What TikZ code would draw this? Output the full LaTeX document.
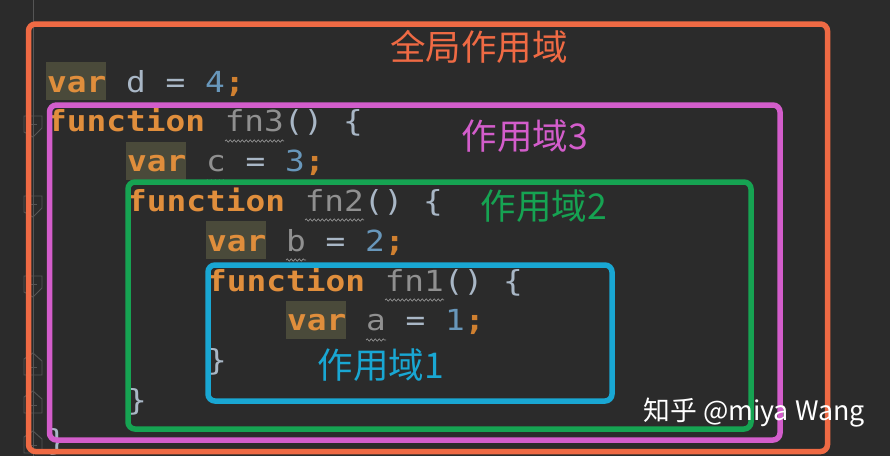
\documentclass[tikz,border=0pt]{standalone}
\usepackage{fontspec}
\newfontfamily\codefont[FakeStretch=1.13]{DejaVu Sans Mono}
\newfontfamily\cjk{Noto Sans CJK SC}
\usepackage{tikz}
\usetikzlibrary{positioning}
\usetikzlibrary{decorations.pathmorphing}

\definecolor{bgdark}{HTML}{2B2B2B}
\definecolor{kworange}{HTML}{E08E3C}
\definecolor{semiorange}{HTML}{D08030}
\definecolor{plaintext}{HTML}{A9B7C6}
\definecolor{numblue}{HTML}{6897BB}
\definecolor{unusedgrey}{HTML}{909090}
\definecolor{varbg}{HTML}{4A4A3A}
\definecolor{gutgrey}{HTML}{555555}
\definecolor{globalc}{HTML}{EF6A44}
\definecolor{scopethree}{HTML}{D35DCB}
\definecolor{scopetwo}{HTML}{16A352}
\definecolor{scopeone}{HTML}{19A7D3}

\newcommand{\kw}[1]{\textcolor{kworange}{\bfseries #1}}
\newcommand{\numb}[1]{\textcolor{numblue}{#1}}
\newcommand{\semi}{\textcolor{semiorange}{\bfseries ;}}
\newcommand{\unused}[1]{\textcolor{unusedgrey}{#1}}

\tikzset{
  code/.style={anchor=base west, inner sep=0pt, text=plaintext,
               font=\codefont\fontsize{29}{32}\selectfont},
  scopebox/.style={line width=5.5pt, rounded corners=7pt},
  scopelabel/.style={inner sep=0pt, font=\cjk\fontsize{35.5}{40}\selectfont},
  squiggle/.style={draw=unusedgrey, line width=0.7pt, decorate,
                   decoration={snake, amplitude=1.1pt, segment length=4pt}},
  foldmark/.style={draw=gutgrey, line width=0.9pt}
}

\begin{document}
\begin{tikzpicture}[x=1pt, y=-1pt]
  \fill[bgdark] (0,0) rectangle (890,456);
  \useasboundingbox (0,0) rectangle (890,456);

  % gutter
  \draw[gutgrey, line width=0.8pt] (33,0) -- (33,456);
  \foreach \y in {116,196,276} {
    \draw[foldmark] (24,\y) -- (42,\y) -- (42,\y+12) -- (33,\y+21) -- (24,\y+16) -- cycle;
    \draw[foldmark] (29,\y+8) -- (37,\y+8);
  }
  \foreach \y in {353,391,431} {
    \draw[foldmark] (33,\y) -- (42,\y+8) -- (42,\y+22) -- (24,\y+22) -- (24,\y+6) -- cycle;
    \draw[foldmark] (29,\y+14) -- (37,\y+14);
  }

  % var highlights
  \fill[varbg] (46,62) rectangle (106,100);
  \fill[varbg] (126,141.6) rectangle (186,179.6);
  \fill[varbg] (206,221.2) rectangle (266,259.2);
  \fill[varbg] (286,300.8) rectangle (346,338.8);

  % code
  \node[code] (ln1) at (47,92) {\kw{var} d = \numb{4}\semi};
  \node[code] (ln2) at (47,131.8) {\kw{function} \unused{fn3}() \{};
  \node[code] (ln3) at (127,171.6) {\kw{var} \unused{c} = \numb{3}\semi};
  \node[code] (ln4) at (127,211.4) {\kw{function} \unused{fn2}() \{};
  \node[code] (ln5) at (207,251.2) {\kw{var} \unused{b} = \numb{2}\semi};
  \node[code] (ln6) at (207,291) {\kw{function} \unused{fn1}() \{};
  \node[code] (ln7) at (287,330.8) {\kw{var} \unused{a} = \numb{1}\semi};
  \node[code] (ln8) at (207,370.6) {\}};
  \node[code] (ln9) at (127,410.4) {\}};
  \node[code] (ln10) at (47,450.2) {\}};

  % wavy underlines
  \draw[squiggle] (225,141) -- (284,141);
  \draw[squiggle] (206,181) -- (226,181);
  \draw[squiggle] (305,220) -- (364,220);
  \draw[squiggle] (286,260) -- (306,260);
  \draw[squiggle] (385,300) -- (444,300);
  \draw[squiggle] (366,340) -- (386,340);

  % scopes
  \draw[scopebox, globalc] (28.5,24) rectangle (827.5,451.5);
  \draw[scopebox, scopethree] (49.5,105) rectangle (780,440);
  \draw[scopebox, scopetwo] (128,182) rectangle (751,429);
  \draw[scopebox, scopeone] (208,265) rectangle (612,401);

  \node[scopelabel, text=globalc] (lglobal) at (479,47) {全局作用域};
  \node[scopelabel, text=scopethree] (lthree) at (525,136) {作用域3};
  \node[scopelabel, text=scopetwo] (ltwo) at (544,206) {作用域2};
  \node[scopelabel, text=scopeone] (lone) at (381,365) {作用域1};

  \node[inner sep=0pt, text=white, font=\cjk\fontsize{26.8}{30}\selectfont] (mark) at (754,413) {知乎 @miya Wang};
\end{tikzpicture}
\end{document}
